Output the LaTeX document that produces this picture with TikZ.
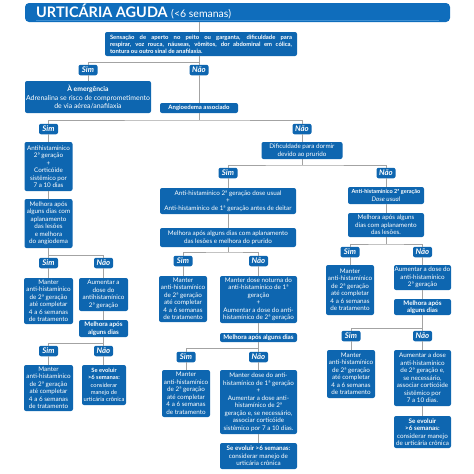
\documentclass[tikz,border=0pt]{standalone}
\usepackage{fontspec}
\setmainfont{Lato}
\definecolor{ublue}{HTML}{0E66B0}
\definecolor{tblue}{HTML}{0F6DBC}
\definecolor{hblue}{HTML}{3D8FD3}
\definecolor{lgray}{HTML}{A3A3A3}
\newcommand\bodyfs{\fontsize{6.3}{7.5}\selectfont}
\begin{document}
\begin{tikzpicture}[x=1pt,y=-1pt,
  box/.style={fill=ublue,text=white,rounded corners=2pt,inner sep=0pt,align=center,font=\bodyfs},
  boldbox/.style={box,font=\bodyfs\bfseries},
  lbl/.style={fill=ublue,text=white,rounded corners=2pt,minimum width=19pt,minimum height=10.5pt,inner sep=0pt,font=\bfseries\itshape\fontsize{7.8}{8}\selectfont},
  conn/.style={draw=lgray,line width=0.9pt}]
\useasboundingbox (0,0) rectangle (474,474);
% title
\node[fill=tblue,rounded corners=4pt,minimum width=425pt,minimum height=19pt,inner sep=0pt] (bar) at (237.5,12.5) {};
\draw[hblue,line width=0.6pt] (36,20.3) -- (439,20.3);
\node[anchor=base west,text=white,inner sep=0pt] (ttl) at (36,17.5) {\fontsize{14.5}{14}\selectfont\bfseries URTICÁRIA AGUDA {\fontsize{10.5}{11}\selectfont\mdseries (<6 semanas)}};
% level 1
\node[box,minimum width=192pt,minimum height=24pt,text width=182pt,align=justify,font=\bfseries\fontsize{5.9}{7}\selectfont] (q1) at (201,44) {Sensação de aperto no peito ou garganta, dificuldade para\linebreak respirar, voz rouca, náuseas, vômitos, dor abdominal em cólica,\linebreak tontura ou outro sinal de anafilaxia.};
\node[lbl] (s1) at (88,70) {Sim};
\node[lbl] (n1) at (199,70) {Não};
\node[box,minimum width=126pt,minimum height=32pt,font=\fontsize{6.9}{8.3}\selectfont] (emerg) at (88,97) {{\bfseries\fontsize{6.8}{8}\selectfont À emergência}\\[1pt]Adrenalina se risco de comprometimento\\de via aérea/anafilaxia};
\node[box,minimum width=78pt,minimum height=10pt,font=\bfseries\fontsize{6}{7}\selectfont] (angio) at (199,108) {Angioedema associado};
% level 2
\node[lbl] (s2) at (48.5,129) {Sim};
\node[lbl] (n2) at (302,129) {Não};
\node[box,minimum width=48pt,minimum height=49pt] (ah1) at (48.5,166.5) {Antihistamínico\\2ª geração\\+\\Corticóide\\sistêmico por\\7 a 10 dias};
\node[box,minimum width=48pt,minimum height=49pt] (mel1) at (48.5,223.5) {Melhora após\\alguns dias com\\aplanamento\\das lesões\\e melhora\\do angiodema};
\node[lbl] (s3) at (48.5,263) {Sim};
\node[lbl] (n3) at (103.5,263) {Não};
\node[box,minimum width=49pt,minimum height=46pt] (man1) at (48.5,301) {Manter\\anti-histamínico\\de 2ª geração\\até completar\\4 a 6 semanas\\de tratamento};
\node[box,minimum width=49pt,minimum height=33pt] (aum1) at (103.5,294.5) {Aumentar a\\dose do\\antihistamínico\\2ª geração};
\node[boldbox,minimum width=49pt,minimum height=17pt] (mel2) at (103.5,328.5) {Melhora após\\alguns dias};
\node[lbl] (s4) at (48.5,351) {Sim};
\node[lbl] (n4) at (103.5,351) {Não};
\node[box,minimum width=49pt,minimum height=46pt] (man2) at (48.5,388) {Manter\\anti-histamínico\\de 2ª geração\\até completar\\4 a 6 semanas\\de tratamento};
\node[box,minimum width=44pt,minimum height=40pt,font=\fontsize{5.8}{7.4}\selectfont] (evo1) at (104,385) {\bfseries Se evoluir\\\bfseries >6 semanas:\\considerar\\manejo de\\urticária crônica};
% middle
\node[box,minimum width=81pt,minimum height=17pt] (dif) at (302,150.5) {Dificuldade para dormir\\devido ao prurido};
\node[lbl] (s5) at (228,173) {Sim};
\node[lbl] (n5) at (386,173) {Não};
\node[box,minimum width=136pt,minimum height=26pt] (ahm) at (228,201) {Anti-histamínico 2ª geração dose usual\\+\\Anti-histamínico de 1ª geração antes de deitar};
\node[box,minimum width=136pt,minimum height=19pt] (melm) at (228,237.5) {Melhora após alguns dias com aplanamento\\das lesões e melhora do prurido};
\node[lbl] (s6) at (183,261) {Sim};
\node[lbl] (n6) at (258.5,261) {Não};
\node[box,minimum width=48pt,minimum height=46pt] (manm1) at (183,299) {Manter\\anti-histamínico\\de 2ª geração\\até completar\\4 a 6 semanas\\de tratamento};
\node[box,minimum width=77pt,minimum height=47pt] (noct) at (258.5,299.5) {Manter dose noturna do\\anti-histamínico de 1ª\\geração\\+\\Aumentar a dose do anti-\\histamínico de 2ª geração};
\node[boldbox,minimum width=77pt,minimum height=9pt] (melm2) at (258.5,337.5) {Melhora após alguns dias};
\node[lbl] (s7) at (186,357) {Sim};
\node[lbl] (n7) at (258.5,357) {Não};
\node[box,minimum width=48pt,minimum height=47pt] (manm2) at (186,393.5) {Manter\\anti-histamínico\\de 2ª geração\\até completar\\4 a 6 semanas\\de tratamento};
\node[box,minimum width=77pt,minimum height=64pt] (dose) at (258.5,402) {Manter dose do anti-\\histamínico de 1ª geração\\+\\Aumentar a dose anti-\\histamínico de 2ª\\geração e, se necessário,\\associar corticóide\\sistêmico por 7 a 10 dias.};
\node[box,minimum width=77pt,minimum height=26pt] (evom) at (258.5,456) {\bfseries Se evoluir >6 semanas:\\considerar manejo de\\urticária crônica};
% right
\node[box,minimum width=76pt,minimum height=17pt] (ahr) at (386,195.5) {{\bfseries\fontsize{5.6}{6.8}\selectfont Anti-histamínico 2ª geração}\\\itshape Dose usual};
\node[box,minimum width=76pt,minimum height=24pt] (melr) at (386,225) {Melhora após alguns\\dias com aplanamento\\das lesões.};
\node[lbl] (s8) at (350,252) {Sim};
\node[lbl] (n8) at (422.5,252) {Não};
\node[box,minimum width=48pt,minimum height=50pt] (manr1) at (350,290) {Manter\\anti-histamínico\\de 2ª geração\\até completar\\4 a 6 semanas\\de tratamento};
\node[box,minimum width=57pt,minimum height=25pt] (aumr) at (422.5,277.5) {Aumentar a dose do\\anti-histamínico\\2ª geração};
\node[boldbox,minimum width=57pt,minimum height=16pt] (melr2) at (422.5,307) {Melhora após\\alguns dias};
\node[lbl] (s9) at (351,336) {Sim};
\node[lbl] (n9) at (422.5,336) {Não};
\node[box,minimum width=48pt,minimum height=48pt] (manr2) at (351,374) {Manter\\anti-histamínico\\de 2ª geração\\até completar\\4 a 6 semanas\\de tratamento};
\node[box,minimum width=57pt,minimum height=56pt] (aumr2) at (422.5,378) {Aumentar a dose\\anti-histamínico\\de 2ª geração e,\\se necessário,\\associar corticóide\\sistêmico por\\7 a 10 dias.};
\node[box,minimum width=57pt,minimum height=32pt] (evor) at (422.5,432) {\bfseries Se evoluir\\\bfseries >6 semanas:\\considerar manejo\\de urticária crônica};
% connectors
\coordinate (j1) at (199,62);
\coordinate (j2) at (199,120);
\coordinate (j3) at (48.5,255);
\coordinate (j4) at (103.5,343);
\coordinate (j5) at (302,165);
\coordinate (j6) at (228,252);
\coordinate (j7) at (258.5,348);
\coordinate (j8) at (386,244);
\coordinate (j9) at (422.5,328);
\draw[conn] (bar.south -| n1) -- (q1.north -| n1);
\draw[conn] (q1.south -| j1) -- (j1);
\draw[conn] (s1.north) |- (j1) -| (n1.north);
\draw[conn] (s1.south) -- (emerg.north);
\draw[conn] (n1.south) -- (angio.north);
\draw[conn] (angio.south) -- (j2);
\draw[conn] (s2.north) |- (j2) -| (n2.north);
\draw[conn] (s2.south) -- (ah1.north);
\draw[conn] (ah1.south) -- (mel1.north);
\draw[conn] (mel1.south) -- (j3);
\draw[conn] (s3.north) |- (j3) -| (n3.north);
\draw[conn] (s3.south) -- (man1.north);
\draw[conn] (n3.south) -- (aum1.north);
\draw[conn] (aum1.south) -- (mel2.north);
\draw[conn] (mel2.south) -- (j4);
\draw[conn] (s4.north) |- (j4) -| (n4.north);
\draw[conn] (s4.south) -- (man2.north);
\draw[conn] (n4.south) -- (n4.south |- evo1.north);
\draw[conn] (n2.south) -- (dif.north);
\draw[conn] (dif.south) -- (j5);
\draw[conn] (s5.north) |- (j5) -| (n5.north);
\draw[conn] (s5.south) -- (ahm.north);
\draw[conn] (ahm.south) -- (melm.north);
\draw[conn] (melm.south) -- (j6);
\draw[conn] (s6.north) |- (j6) -| (n6.north);
\draw[conn] (s6.south) -- (manm1.north);
\draw[conn] (n6.south) -- (noct.north);
\draw[conn] (noct.south) -- (melm2.north);
\draw[conn] (melm2.south) -- (j7);
\draw[conn] (s7.north) |- (j7) -| (n7.north);
\draw[conn] (s7.south) -- (manm2.north);
\draw[conn] (n7.south) -- (dose.north);
\draw[conn] (dose.south) -- (evom.north);
\draw[conn] (n5.south) -- (ahr.north);
\draw[conn] (ahr.south) -- (melr.north);
\draw[conn] (melr.south) -- (j8);
\draw[conn] (s8.north) |- (j8) -| (n8.north);
\draw[conn] (s8.south) -- (manr1.north);
\draw[conn] (n8.south) -- (aumr.north);
\draw[conn] (aumr.south) -- (melr2.north);
\draw[conn] (melr2.south) -- (j9);
\draw[conn] (s9.north) |- (j9) -| (n9.north);
\draw[conn] (s9.south) -- (manr2.north);
\draw[conn] (n9.south) -- (aumr2.north);
\draw[conn] (aumr2.south) -- (evor.north);
\end{tikzpicture}
\end{document}
